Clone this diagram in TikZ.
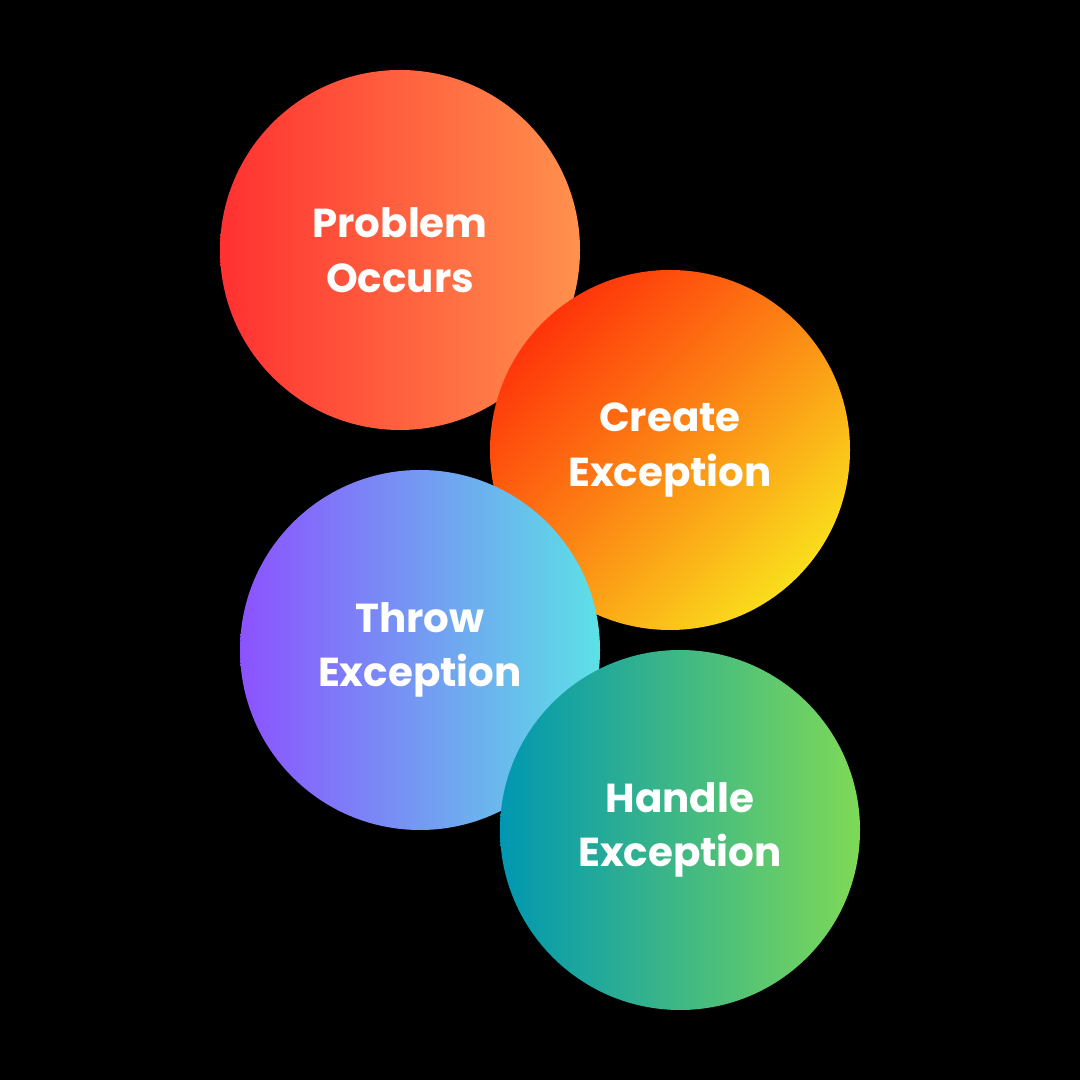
\documentclass[tikz,border=0pt]{standalone}
\usepackage{fontspec}
\setmainfont{Poppins}
\usepackage{tikz}
\usetikzlibrary{positioning}

\definecolor{problemL}{RGB}{255,49,49}
\definecolor{problemR}{RGB}{255,145,77}
\definecolor{createT}{RGB}{255,52,10}
\definecolor{createM}{RGB}{252,135,20}
\definecolor{createB}{RGB}{250,222,28}
\definecolor{throwL}{RGB}{140,82,255}
\definecolor{throwR}{RGB}{92,225,230}
\definecolor{handleL}{RGB}{0,151,178}
\definecolor{handleR}{RGB}{126,217,87}

\begin{document}
\begin{tikzpicture}[bubble/.style={circle, minimum size=3.6cm, inner sep=0pt,
		align=center, text=white, font=\bfseries\fontsize{11.5}{15.6}\selectfont}]
		\fill [black] (0,0) rectangle (10.8,10.8);
		\useasboundingbox (0,0) rectangle (10.8,10.8);
		
		\node (problem) [bubble, left color=problemL, right color=problemR] at (4.0,8.3) {Problem\\Occurs};
		\node (create)  [bubble, top color=createT, bottom color=createB, middle color=createM,
		                 shading angle=45] at (6.7,6.3) {Create\\Exception};
		\node (throw)   [bubble, left color=throwL, right color=throwR] at (4.2,4.3) {Throw\\Exception};
		\node (handle)  [bubble, left color=handleL, right color=handleR] at (6.8,2.5) {Handle\\Exception};
	\end{tikzpicture}
\end{document}
